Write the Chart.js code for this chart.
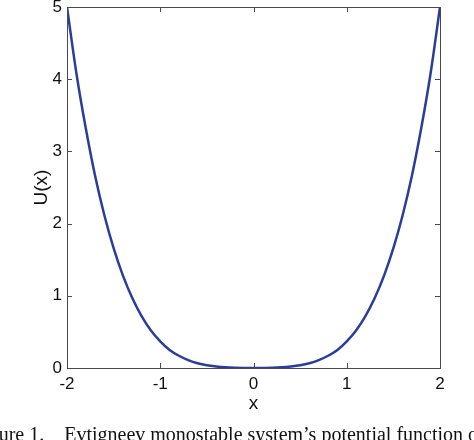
<!DOCTYPE html>
<html>
<head>
<meta charset="utf-8">
<script src="https://cdn.jsdelivr.net/npm/chart.js@4"></script>
<style>
    body { margin: 0; background: #fff; }
    #wrap { position: relative; width: 474px; height: 440px; overflow: hidden; }
    #caption {
        position: absolute; left: -28px; top: 423px;
        font-family: "Liberation Serif", serif; font-size: 20px;
        white-space: pre; color: #111;
    }
</style>
</head>
<body>
<div id="wrap">
    <canvas id="chart" width="474" height="440"></canvas>
    <div id="caption">Figure 1.    Evtigneev monostable system’s potential function of</div>
</div>
<script>
const xValues = [-2.0, -1.9, -1.8, -1.7, -1.6, -1.5, -1.4, -1.3, -1.2, -1.1, -1.0,
    -0.9, -0.8, -0.7, -0.6, -0.5, -0.4, -0.3, -0.2, -0.1, 0.0,
    0.1, 0.2, 0.3, 0.4, 0.5, 0.6, 0.7, 0.8, 0.9, 1.0,
    1.1, 1.2, 1.3, 1.4, 1.5, 1.6, 1.7, 1.8, 1.9, 2.0];
const uValues = [5.00, 4.09, 3.33, 2.67, 2.12, 1.66, 1.28, 0.97, 0.72, 0.52, 0.37,
    0.25, 0.17, 0.11, 0.066, 0.037, 0.02, 0.009, 0.003, 0.001, 0.0,
    0.001, 0.003, 0.009, 0.02, 0.037, 0.066, 0.11, 0.17, 0.25, 0.37,
    0.52, 0.72, 0.97, 1.28, 1.66, 2.12, 2.67, 3.33, 4.09, 5.00];
const xTicks = [-2, -1, 0, 1, 2];
const yTicks = [0, 1, 2, 3, 4, 5];

const points = xValues.map((x, i) => ({ x: x, y: uValues[i] }));

// MATLAB style box with inward ticks on all four sides
const frame = {
    id: 'frame',
    afterDraw(chart) {
        const { ctx, chartArea: a, scales: { x, y } } = chart;
        ctx.save();
        ctx.strokeStyle = '#4a4a4a';
        ctx.lineWidth = 1;
        ctx.strokeRect(a.left + 0.5, a.top + 0.5, a.right - a.left, a.bottom - a.top);
        ctx.beginPath();
        x.ticks.forEach(t => {
            const px = Math.round(x.getPixelForValue(t.value)) + 0.5;
            ctx.moveTo(px, a.bottom); ctx.lineTo(px, a.bottom - 5);
            ctx.moveTo(px, a.top); ctx.lineTo(px, a.top + 5);
        });
        y.ticks.forEach(t => {
            const py = Math.round(y.getPixelForValue(t.value)) + 0.5;
            ctx.moveTo(a.left, py); ctx.lineTo(a.left + 5, py);
            ctx.moveTo(a.right, py); ctx.lineTo(a.right - 5, py);
        });
        ctx.stroke();
        ctx.restore();
    }
};

const tickFont = { family: 'Liberation Sans', size: 17 };
const titleFont = { family: 'Liberation Sans', size: 19 };

new Chart(document.getElementById('chart'), {
    type: 'scatter',
    data: {
        datasets: [{
            data: points,
            showLine: true,
            borderColor: '#2b3d9b',
            borderWidth: 2.5,
            pointRadius: 0,
            cubicInterpolationMode: 'monotone'
        }]
    },
    options: {
        responsive: false,
        animation: false,
        devicePixelRatio: 1,
        layout: { padding: { left: 0, right: 34, top: 7, bottom: 0 } },
        plugins: { legend: { display: false }, tooltip: { enabled: false } },
        scales: {
            x: {
                type: 'linear', min: -2, max: 2,
                afterBuildTicks: s => { s.ticks = xTicks.map(v => ({ value: v })); },
                afterFit: s => { s.height = 72; s.paddingLeft = 0; s.paddingRight = 0; },
                grid: { display: false, drawTicks: false },
                border: { display: false },
                ticks: { font: tickFont, color: '#111', padding: 6, maxRotation: 0 },
                title: { display: true, text: 'x', font: titleFont, color: '#111', padding: { top: 0, bottom: 25 } }
            },
            y: {
                type: 'linear', min: 0, max: 5,
                afterBuildTicks: s => { s.ticks = yTicks.map(v => ({ value: v })); },
                afterFit: s => { s.width = 67; s.paddingTop = 0; s.paddingBottom = 0; },
                grid: { display: false, drawTicks: false },
                border: { display: false },
                ticks: { font: tickFont, color: '#111', padding: 5 },
                title: { display: true, text: 'U(x)', font: titleFont, color: '#111', padding: { top: 30, bottom: 0 } }
            }
        }
    },
    plugins: [frame]
});
</script>
</body>
</html>
